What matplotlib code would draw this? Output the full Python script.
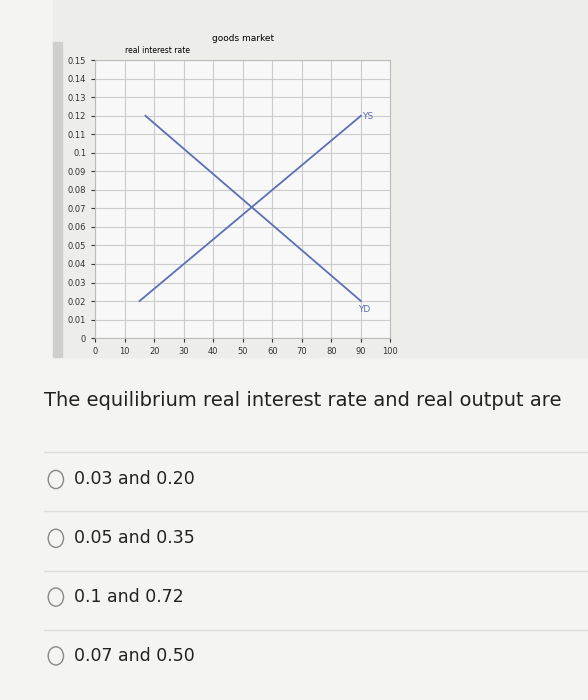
import matplotlib
matplotlib.use("Agg")
import matplotlib.pyplot as plt
from matplotlib.patches import Circle, Rectangle

ys_x = [15, 90]
ys_y = [0.02, 0.12]
yd_x = [17, 90]
yd_y = [0.12, 0.02]
xticks = [0, 10, 20, 30, 40, 50, 60, 70, 80, 90, 100]
yticks = [0, 0.01, 0.02, 0.03, 0.04, 0.05, 0.06, 0.07, 0.08, 0.09, 0.1, 0.11, 0.12, 0.13, 0.14, 0.15]
ytick_labels = ["0", "0.01", "0.02", "0.03", "0.04", "0.05", "0.06", "0.07", "0.08", "0.09", "0.1",
                "0.11", "0.12", "0.13", "0.14", "0.15"]
question = "The equilibrium real interest rate and real output are"
options = ["0.03 and 0.20", "0.05 and 0.35", "0.1 and 0.72", "0.07 and 0.50"]

fig = plt.figure(figsize=(5.88, 7.0), dpi=100)
fig.patch.set_facecolor("#f4f4f2")
fig.add_artist(Rectangle((0.09, 0.49), 0.91, 0.51, transform=fig.transFigure, color="#ededeb", zorder=0))
fig.add_artist(Rectangle((0.09, 0.49), 0.015, 0.45, transform=fig.transFigure, color="#cfcfcc", zorder=0))

ax = fig.add_axes([0.162, 0.517, 0.502, 0.397])
ax.set_facecolor("#f8f8f8")
ax.plot(ys_x, ys_y, color="#5b6fb5", lw=1.3)
ax.plot(yd_x, yd_y, color="#5b6fb5", lw=1.3)
ax.set_xlim(0, 100)
ax.set_ylim(0, 0.15)
ax.set_xticks(xticks)
ax.set_yticks(yticks)
ax.set_yticklabels(ytick_labels)
ax.tick_params(labelsize=6, colors="#333333", length=3)
ax.grid(True, color="#cccccc", lw=0.8)
for s in ax.spines.values():
    s.set_color("#bbbbbb")
ax.text(90.5, 0.122, "YS", fontsize=6.5, color="#5b6fb5", ha="left", va="top")
ax.text(89, 0.018, "YD", fontsize=6.5, color="#5b6fb5", ha="left", va="top")
ax.set_title("goods market", fontsize=6.5, pad=14)
ax.text(10, 0.153, "real interest rate", fontsize=5.5, ha="left", va="bottom")

fig.text(0.075, 0.428, question, fontsize=14, color="#222222", va="center")
for yy in [0.355, 0.27, 0.185, 0.10]:
    fig.add_artist(plt.Line2D([0.075, 1.0], [yy, yy], color="#dddddd", lw=1, transform=fig.transFigure))
for i, opt in enumerate(options):
    yy = 0.315 - i * 0.084
    fig.add_artist(Circle((0.095, yy), 0.013, transform=fig.transFigure, fill=False, ec="#888888", lw=1))
    fig.text(0.125, yy, opt, fontsize=12.5, color="#222222", va="center")

fig.savefig("out.png", dpi=100, facecolor=fig.get_facecolor())
